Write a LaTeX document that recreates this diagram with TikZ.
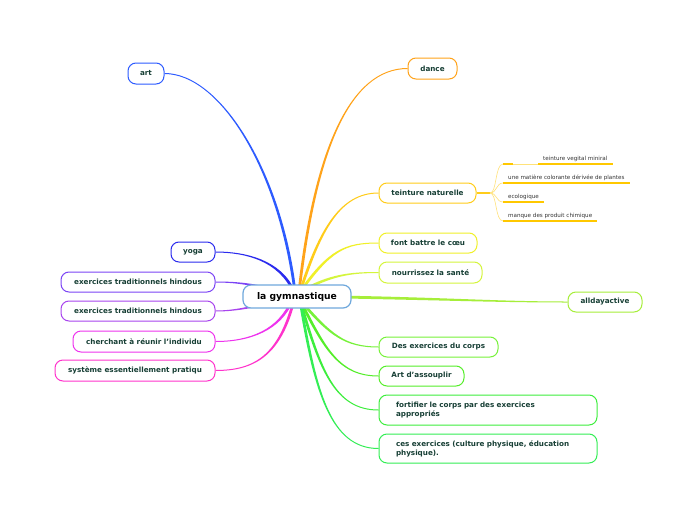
\documentclass[tikz,border=0pt]{standalone}
\usepackage{fontspec}
\setmainfont{DejaVu Sans}
\usetikzlibrary{calc,backgrounds}
\definecolor{txt}{HTML}{173F35}
\definecolor{cCenter}{HTML}{6FA8DC}
\definecolor{cArt}{HTML}{2D5BFF}
\definecolor{cDance}{HTML}{FFA31A}
\definecolor{cTein}{HTML}{FFCC1A}
\definecolor{cTsub}{HTML}{FFE27A}
\definecolor{cUnd}{HTML}{FFC800}
\definecolor{cFont}{HTML}{F0F028}
\definecolor{cNour}{HTML}{D4F53C}
\definecolor{cAll}{HTML}{A6EE3A}
\definecolor{cDes}{HTML}{77F23A}
\definecolor{cArtA}{HTML}{55EE2A}
\definecolor{cFort}{HTML}{3DEE3D}
\definecolor{cCes}{HTML}{33EE55}
\definecolor{cYoga}{HTML}{2B2BEE}
\definecolor{cExA}{HTML}{7B44F5}
\definecolor{cExB}{HTML}{A844EE}
\definecolor{cCher}{HTML}{EE33EE}
\definecolor{cSys}{HTML}{FF33CC}
\newcommand\lblfont{\fontsize{7.2}{9}\selectfont\bfseries}
\newcommand\subfont{\fontsize{5.6}{6.5}\selectfont}
% tapered connector: colour, start, control 1, control 2, end
\newcommand\tconn[5]{%
\fill[#1] ($(#2)!1.4pt!90:(#3)$) .. controls ($(#3)!1.4pt!-90:(#2)$) and ($(#4)!0.5pt!90:(#5)$) .. ($(#5)!0.5pt!-90:(#4)$)
 -- ($(#5)!0.5pt!90:(#4)$) .. controls ($(#4)!0.5pt!-90:(#5)$) and ($(#3)!1.4pt!90:(#2)$) .. ($(#2)!1.4pt!-90:(#3)$) -- cycle;}
\tikzset{
 mnode/.style={draw=#1, line width=1pt, rounded corners=8pt, fill=white, text=txt,
   font=\lblfont, minimum height=20pt, inner xsep=4pt, inner ysep=0pt},
 twoline/.style={mnode=#1, text width=184pt, inner xsep=17pt, align=left, minimum height=30pt},
 subnode/.style={font=\subfont, text=black!80, inner xsep=5pt, inner ysep=2.5pt, anchor=south west},
 underl/.style={draw=cUnd, line width=1.3pt},
 subconn/.style={draw=cTsub, line width=0.6pt}
}
\begin{document}
\begin{tikzpicture}[x=1pt,y=-1pt]
\useasboundingbox (0,0) rectangle (697,520);
% nodes
\node[mnode=cCenter, line width=1.2pt, minimum width=108pt, minimum height=23pt, text=black,
  font=\fontsize{9.2}{11}\selectfont\bfseries] (center) at (297,296.5) {la gymnastique};
\node[mnode=cArt, minimum width=36pt, minimum height=21pt] (art) at (146,73.5) {art};
\node[mnode=cDance, minimum width=49pt, minimum height=21pt] (dance) at (432.5,68.5) {dance};
\node[mnode=cTein, minimum width=97pt] (tein) at (427.5,193) {teinture naturelle};
\node[mnode=cFont, minimum width=98pt] (font) at (428,243) {font battre le cœu};
\node[mnode=cNour, minimum width=103pt, minimum height=21pt] (nour) at (430.5,272.5) {nourrissez la santé};
\node[mnode=cAll, minimum width=74pt] (all) at (605,302) {alldayactive};
\node[mnode=cDes, minimum width=119pt] (des) at (438.5,347) {Des exercices du corps};
\node[mnode=cArtA, minimum width=85pt] (arta) at (421.5,376) {Art d'assouplir};
\node[twoline=cFort] (fort) at (488,410) {fortifier le corps par des exercices\\appropriés};
\node[twoline=cCes, minimum height=29pt] (ces) at (488,448.5) {ces exercices (culture physique, éducation\\physique).};
\node[mnode=cYoga, minimum width=44pt] (yoga) at (193,252) {yoga};
\node[mnode=cExA, minimum width=154pt] (exa) at (138,282) {exercices traditionnels hindous};
\node[mnode=cExB, minimum width=154pt] (exb) at (138,311) {exercices traditionnels hindous};
\node[mnode=cCher, minimum width=142pt, minimum height=21pt] (cher) at (144,341.5) {cherchant à réunir l'individu};
\node[mnode=cSys, minimum width=160pt, minimum height=21pt] (sys) at (135,370.5) {système essentiellement pratiqu};
% sub-topics of teinture naturelle
\coordinate (tbr) at (490,193);
\coordinate (s1a) at (503,164);
\node[subnode] (s1) at (538,164) {teinture vegital miniral};
\node[subnode] (s2) at (503,183) {une matière colorante dérivée de plantes};
\node[subnode] (s3) at (503,202) {ecologique};
\node[subnode] (s4) at (503,221) {manque des produit chimique};
\begin{pgfonlayer}{background}
\fill[white] (0,0) rectangle (697,520);
\tconn{cArt}{295,292}{280,170}{220,73.5}{art.east}
\tconn{cDance}{299,292}{315,150}{350,68.5}{dance.west}
\tconn{cTein}{300,292}{320,230}{340,193}{tein.west}
\tconn{cFont}{300,292}{330,250}{345,243}{font.west}
\tconn{cNour}{300,292}{330,275}{350,272.5}{nour.west}
\tconn{cAll}{340,297}{450,299}{500,302}{all.west}
\tconn{cDes}{300,300}{330,335}{345,347}{des.west}
\tconn{cArtA}{300,300}{325,350}{340,376}{arta.west}
\tconn{cFort}{300,300}{320,370}{335,410}{fort.west}
\tconn{cCes}{300,300}{315,390}{330,448.5}{ces.west}
\tconn{cYoga}{294,292}{280,260}{245,252}{yoga.east}
\tconn{cExA}{290,295}{260,285}{240,282}{exa.east}
\tconn{cExB}{290,298}{260,305}{240,311}{exb.east}
\tconn{cCher}{292,300}{280,330}{250,341.5}{cher.east}
\tconn{cSys}{294,300}{280,355}{255,370.5}{sys.east}
% teinture sub-branches
\draw[cTein, line width=2.5pt] (tein.east) -- (tbr);
\draw[subconn] (tbr) .. controls (497,193) and (495,164) .. (s1a);
\draw[subconn] (tbr) .. controls (497,193) and (496,183) .. (s2.south west);
\draw[subconn] (tbr) .. controls (497,193) and (496,202) .. (s3.south west);
\draw[subconn] (tbr) .. controls (497,193) and (495,221) .. (s4.south west);
\draw[subconn] (s1a) -- (s1.south west);
\draw[underl] (s1a) -- ++(10,0);
\draw[underl] (s1.south west) -- (s1.south east);
\draw[underl] (s2.south west) -- (s2.south east);
\draw[underl] (s3.south west) -- (s3.south east);
\draw[underl] (s4.south west) -- (s4.south east);
\end{pgfonlayer}
\end{tikzpicture}
\end{document}
